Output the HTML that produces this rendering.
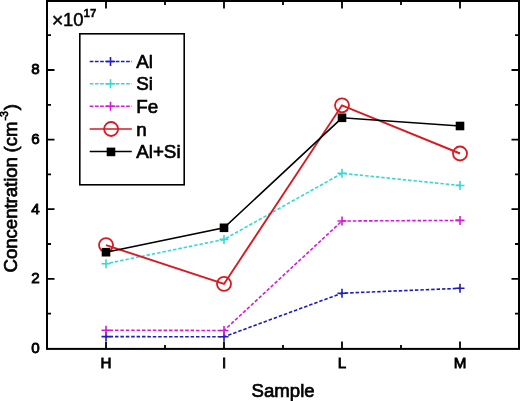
<!DOCTYPE html>
<html><head><meta charset="utf-8"><style>
html,body{margin:0;padding:0;background:#fff;}
svg{display:block;}
</style></head><body>
<svg width="520" height="401" viewBox="0 0 520 401">
<rect width="520" height="401" fill="#fff"/>
<polyline points="106,336.6 224,336.8 342,293.2 460,288.3" stroke="#1c1cc0" stroke-width="1.6" stroke-dasharray="3.5 1.9" stroke-dashoffset="1.8" fill="none"/>
<path d="M101.5,336.6H110.5M106,332.1V341.1" stroke="#1c1cc0" stroke-width="1.6" fill="none"/>
<path d="M219.5,336.8H228.5M224,332.3V341.3" stroke="#1c1cc0" stroke-width="1.6" fill="none"/>
<path d="M337.5,293.2H346.5M342,288.7V297.7" stroke="#1c1cc0" stroke-width="1.6" fill="none"/>
<path d="M455.5,288.3H464.5M460,283.8V292.8" stroke="#1c1cc0" stroke-width="1.6" fill="none"/>
<polyline points="106,263.7 224,239.4 342,173.3 460,185.5" stroke="#36d8d4" stroke-width="1.6" stroke-dasharray="3.5 1.9" stroke-dashoffset="1.8" fill="none"/>
<path d="M101.5,263.7H110.5M106,259.2V268.2" stroke="#36d8d4" stroke-width="1.6" fill="none"/>
<path d="M219.5,239.4H228.5M224,234.9V243.9" stroke="#36d8d4" stroke-width="1.6" fill="none"/>
<path d="M337.5,173.3H346.5M342,168.8V177.8" stroke="#36d8d4" stroke-width="1.6" fill="none"/>
<path d="M455.5,185.5H464.5M460,181.0V190.0" stroke="#36d8d4" stroke-width="1.6" fill="none"/>
<polyline points="106,330.2 224,330.5 342,221.0 460,220.4" stroke="#d818d8" stroke-width="1.6" stroke-dasharray="3.5 1.9" stroke-dashoffset="1.8" fill="none"/>
<path d="M101.5,330.2H110.5M106,325.7V334.7" stroke="#d818d8" stroke-width="1.6" fill="none"/>
<path d="M219.5,330.5H228.5M224,326.0V335.0" stroke="#d818d8" stroke-width="1.6" fill="none"/>
<path d="M337.5,221.0H346.5M342,216.5V225.5" stroke="#d818d8" stroke-width="1.6" fill="none"/>
<path d="M455.5,220.4H464.5M460,215.9V224.9" stroke="#d818d8" stroke-width="1.6" fill="none"/>
<polyline points="106,245.1 224,283.9 342,105.3 460,153.5" stroke="#d81a22" stroke-width="1.9" fill="none"/>
<circle cx="106" cy="245.1" r="7.0" stroke="#d81a22" stroke-width="1.8" fill="none"/>
<circle cx="224" cy="283.9" r="7.0" stroke="#d81a22" stroke-width="1.8" fill="none"/>
<circle cx="342" cy="105.3" r="7.0" stroke="#d81a22" stroke-width="1.8" fill="none"/>
<circle cx="460" cy="153.5" r="7.0" stroke="#d81a22" stroke-width="1.8" fill="none"/>
<polyline points="106,252.2 224,227.8 342,117.8 460,126.0" stroke="#000000" stroke-width="1.6" fill="none"/>
<rect x="101.7" y="247.89999999999998" width="8.6" height="8.6" fill="#000000"/>
<rect x="219.7" y="223.5" width="8.6" height="8.6" fill="#000000"/>
<rect x="337.7" y="113.5" width="8.6" height="8.6" fill="#000000"/>
<rect x="455.7" y="121.7" width="8.6" height="8.6" fill="#000000"/>
<path d="M106,348.9V341.4M106,1V8.5M224,348.9V341.4M224,1V8.5M342,348.9V341.4M342,1V8.5M460,348.9V341.4M460,1V8.5M165,348.9V344.9M165,1V5M283,348.9V344.9M283,1V5M401,348.9V344.9M401,1V5M47,278.79999999999995H54.5M519,278.79999999999995H511.5M47,209.2H54.5M519,209.2H511.5M47,139.6H54.5M519,139.6H511.5M47,70.0H54.5M519,70.0H511.5M47,313.59999999999997H51M519,313.59999999999997H515M47,244.0H51M519,244.0H515M47,174.39999999999998H51M519,174.39999999999998H515M47,104.80000000000001H51M519,104.80000000000001H515M47,35.19999999999999H51M519,35.19999999999999H515" stroke="#000" stroke-width="1.8" fill="none"/>
<rect x="47" y="1" width="472" height="347.9" stroke="#000" stroke-width="2" fill="none"/>
<text transform="translate(39.6,352.80) scale(1,1.0)" text-anchor="end" style="font-family:'Liberation Sans',Arial,sans-serif;font-size:15.2px" stroke="#000" stroke-width="0.85">0</text>
<text transform="translate(39.6,283.20) scale(1,1.0)" text-anchor="end" style="font-family:'Liberation Sans',Arial,sans-serif;font-size:15.2px" stroke="#000" stroke-width="0.85">2</text>
<text transform="translate(39.6,213.60) scale(1,1.0)" text-anchor="end" style="font-family:'Liberation Sans',Arial,sans-serif;font-size:15.2px" stroke="#000" stroke-width="0.85">4</text>
<text transform="translate(39.6,144.00) scale(1,1.0)" text-anchor="end" style="font-family:'Liberation Sans',Arial,sans-serif;font-size:15.2px" stroke="#000" stroke-width="0.85">6</text>
<text transform="translate(39.6,74.40) scale(1,1.0)" text-anchor="end" style="font-family:'Liberation Sans',Arial,sans-serif;font-size:15.2px" stroke="#000" stroke-width="0.85">8</text>
<text transform="translate(106,368.3) scale(1,1.0)" text-anchor="middle" style="font-family:'Liberation Sans',Arial,sans-serif;font-size:15.2px" stroke="#000" stroke-width="0.85">H</text>
<text transform="translate(224,368.3) scale(1,1.0)" text-anchor="middle" style="font-family:'Liberation Sans',Arial,sans-serif;font-size:15.2px" stroke="#000" stroke-width="0.85">I</text>
<text transform="translate(342,368.3) scale(1,1.0)" text-anchor="middle" style="font-family:'Liberation Sans',Arial,sans-serif;font-size:15.2px" stroke="#000" stroke-width="0.85">L</text>
<text transform="translate(460,368.3) scale(1,1.0)" text-anchor="middle" style="font-family:'Liberation Sans',Arial,sans-serif;font-size:15.2px" stroke="#000" stroke-width="0.85">M</text>
<text x="51.8" y="27" style="font-family:'Liberation Sans',Arial,sans-serif;font-size:20px" stroke="#000" stroke-width="0.4">×</text>
<text x="62.9" y="25.5" style="font-family:'Liberation Sans',Arial,sans-serif;font-size:18.5px" stroke="#000" stroke-width="0.45">10</text>
<text x="83.6" y="17.1" style="font-family:'Liberation Sans',Arial,sans-serif;font-size:11.5px;font-weight:bold" stroke="#000" stroke-width="0.3">17</text>
<text x="283.1" y="396.5" text-anchor="middle" style="font-family:'Liberation Sans',Arial,sans-serif;font-size:18.6px" stroke="#000" stroke-width="0.7">Sample</text>
<text transform="translate(16.6,272.4) rotate(-90)" style="font-family:'Liberation Sans',Arial,sans-serif;font-size:18.6px" stroke="#000" stroke-width="0.7" letter-spacing="-0.04">Concentration <tspan dx="-0.4">(cm</tspan><tspan dy="-9.1" dx="1.0" style="font-size:10.5px">-3</tspan><tspan dy="9.1" dx="1.0">)</tspan></text>
<rect x="79.8" y="33.8" width="104.4" height="151" stroke="#000" stroke-width="1.6" fill="#fff"/>
<path d="M89.7,61.5H131.8" stroke="#1c1cc0" stroke-width="1.4" stroke-dasharray="3.7 1.5" fill="none"/>
<path d="M106.0,61.5H115.0M110.5,57.0V66.0" stroke="#1c1cc0" stroke-width="1.6" fill="none"/>
<text x="136.2" y="68.0" style="font-family:'Liberation Sans',Arial,sans-serif;font-size:18.8px" stroke="#000" stroke-width="0.65">Al</text>
<path d="M89.7,83.8H131.8" stroke="#36d8d4" stroke-width="1.4" stroke-dasharray="3.7 1.5" fill="none"/>
<path d="M106.0,83.8H115.0M110.5,79.3V88.3" stroke="#36d8d4" stroke-width="1.6" fill="none"/>
<text x="136.2" y="90.3" style="font-family:'Liberation Sans',Arial,sans-serif;font-size:18.8px" stroke="#000" stroke-width="0.65">Si</text>
<path d="M89.7,106.3H131.8" stroke="#d818d8" stroke-width="1.4" stroke-dasharray="3.7 1.5" fill="none"/>
<path d="M106.0,106.3H115.0M110.5,101.8V110.8" stroke="#d818d8" stroke-width="1.6" fill="none"/>
<text x="136.2" y="112.8" style="font-family:'Liberation Sans',Arial,sans-serif;font-size:18.8px" stroke="#000" stroke-width="0.65">Fe</text>
<path d="M89.7,129.0H131.8" stroke="#d81a22" stroke-width="1.4" fill="none"/>
<circle cx="111.1" cy="129.0" r="7.0" stroke="#d81a22" stroke-width="1.8" fill="none"/>
<text x="136.2" y="135.5" style="font-family:'Liberation Sans',Arial,sans-serif;font-size:18.8px" stroke="#000" stroke-width="0.65">n</text>
<path d="M89.7,151.5H131.8" stroke="#000000" stroke-width="1.4" fill="none"/>
<rect x="106.7" y="147.6" width="8.6" height="8.6" fill="#000000"/>
<text x="136.2" y="158.0" style="font-family:'Liberation Sans',Arial,sans-serif;font-size:18.8px" stroke="#000" stroke-width="0.65">Al+Si</text>
</svg>
</body></html>
